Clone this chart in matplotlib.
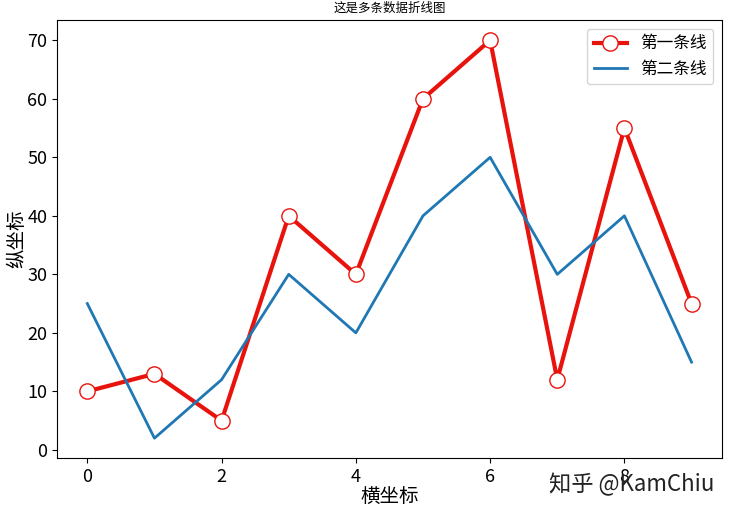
import matplotlib
matplotlib.use("Agg")
import matplotlib.pyplot as plt

plt.rcParams['font.family'] = ['Noto Sans CJK SC', 'DejaVu Sans']

x = list(range(10))
y1 = [10, 13, 5, 40, 30, 60, 70, 12, 55, 25]
y2 = [25, 2, 12, 30, 20, 40, 50, 30, 40, 15]

fig = plt.figure(figsize=(7.32, 5.09), dpi=100)
ax = fig.add_axes([0.078, 0.1, 0.908, 0.86])
ax.plot(x, y1, color='#e8130c', linewidth=3, marker='o', markersize=11,
        markerfacecolor='white', markeredgecolor='#e8130c', label='第一条线')
ax.plot(x, y2, color='#1f77b4', linewidth=2, label='第二条线')
ax.set_title('这是多条数据折线图', fontsize=9)
ax.set_xlabel('横坐标', fontsize=14, labelpad=0)
ax.set_ylabel('纵坐标', fontsize=14, labelpad=0)
ax.tick_params(labelsize=13)
ax.set_xticks([0, 2, 4, 6, 8])
ax.legend(fontsize=12, loc='upper right')
fig.text(0.75, 0.035, '知乎 @KamChiu', fontsize=16, color='#222222')
fig.savefig('out.png', dpi=100)
